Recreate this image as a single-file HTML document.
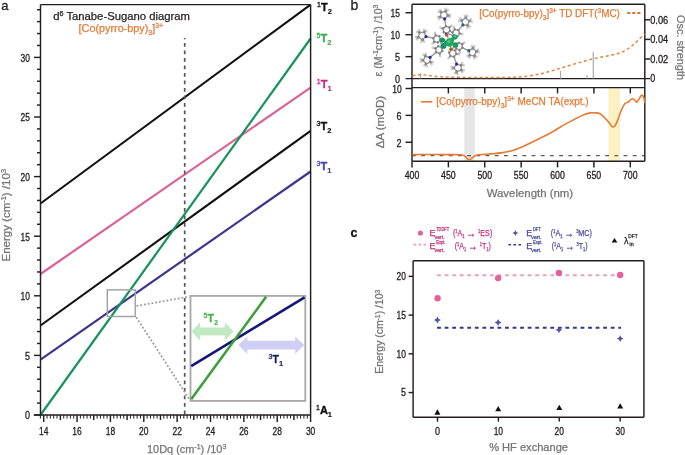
<!DOCTYPE html>
<html><head><meta charset="utf-8"><title>Figure</title>
<style>
html,body{margin:0;padding:0;background:#fff;}
body{width:685px;height:455px;overflow:hidden;}
svg{display:block;font-family:'Liberation Sans', Arial, Helvetica, sans-serif;}
</style></head>
<body>
<svg width="685" height="455" viewBox="0 0 685 455">
<rect width="685" height="455" fill="#fff"/>
<g transform="translate(448.6 41.6) scale(1.08) translate(-448.6 -41.6)">
<line x1="446.1" y1="27.3" x2="449.3" y2="28.5" stroke="#979797" stroke-width="1.25"/>
<line x1="449.3" y1="28.5" x2="449.9" y2="31.8" stroke="#979797" stroke-width="1.25"/>
<line x1="449.9" y1="31.8" x2="447.3" y2="34.0" stroke="#979797" stroke-width="1.25"/>
<line x1="447.3" y1="34.0" x2="444.1" y2="32.9" stroke="#979797" stroke-width="1.25"/>
<line x1="444.1" y1="32.9" x2="443.5" y2="29.5" stroke="#979797" stroke-width="1.25"/>
<line x1="443.5" y1="29.5" x2="446.1" y2="27.3" stroke="#979797" stroke-width="1.25"/>
<line x1="446.1" y1="27.3" x2="444.9" y2="20.6" stroke="#979797" stroke-width="1.25"/>
<line x1="449.3" y1="28.5" x2="451.2" y2="26.9" stroke="#979797" stroke-width="1.25"/>
<line x1="443.5" y1="29.5" x2="441.1" y2="28.6" stroke="#979797" stroke-width="1.25"/>
<line x1="444.9" y1="20.6" x2="441.0" y2="18.7" stroke="#979797" stroke-width="1.25"/>
<line x1="441.0" y1="18.7" x2="441.6" y2="14.4" stroke="#979797" stroke-width="1.25"/>
<line x1="441.6" y1="14.4" x2="445.9" y2="13.6" stroke="#979797" stroke-width="1.25"/>
<line x1="445.9" y1="13.6" x2="447.9" y2="17.5" stroke="#979797" stroke-width="1.25"/>
<line x1="447.9" y1="17.5" x2="444.9" y2="20.6" stroke="#979797" stroke-width="1.25"/>
<line x1="441.0" y1="18.7" x2="439.8" y2="20.7" stroke="#979797" stroke-width="1.25"/>
<line x1="441.0" y1="18.7" x2="438.7" y2="18.6" stroke="#979797" stroke-width="1.25"/>
<line x1="441.6" y1="14.4" x2="439.4" y2="13.9" stroke="#979797" stroke-width="1.25"/>
<line x1="441.6" y1="14.4" x2="441.0" y2="12.2" stroke="#979797" stroke-width="1.25"/>
<line x1="445.9" y1="13.6" x2="445.7" y2="11.3" stroke="#979797" stroke-width="1.25"/>
<line x1="445.9" y1="13.6" x2="447.8" y2="12.4" stroke="#979797" stroke-width="1.25"/>
<line x1="447.9" y1="17.5" x2="450.0" y2="16.6" stroke="#979797" stroke-width="1.25"/>
<line x1="447.9" y1="17.5" x2="449.7" y2="18.9" stroke="#979797" stroke-width="1.25"/>
<line x1="448.1" y1="38.6" x2="447.3" y2="34.0" stroke="#979797" stroke-width="1.25"/>
<line x1="457.7" y1="31.0" x2="458.8" y2="34.2" stroke="#979797" stroke-width="1.25"/>
<line x1="458.8" y1="34.2" x2="456.6" y2="36.8" stroke="#979797" stroke-width="1.25"/>
<line x1="456.6" y1="36.8" x2="453.3" y2="36.2" stroke="#979797" stroke-width="1.25"/>
<line x1="453.3" y1="36.2" x2="452.1" y2="33.0" stroke="#979797" stroke-width="1.25"/>
<line x1="452.1" y1="33.0" x2="454.3" y2="30.4" stroke="#979797" stroke-width="1.25"/>
<line x1="454.3" y1="30.4" x2="457.7" y2="31.0" stroke="#979797" stroke-width="1.25"/>
<line x1="457.7" y1="31.0" x2="461.8" y2="26.2" stroke="#979797" stroke-width="1.25"/>
<line x1="458.8" y1="34.2" x2="461.3" y2="34.7" stroke="#979797" stroke-width="1.25"/>
<line x1="454.3" y1="30.4" x2="453.5" y2="28.0" stroke="#979797" stroke-width="1.25"/>
<line x1="461.8" y1="26.2" x2="460.8" y2="22.0" stroke="#979797" stroke-width="1.25"/>
<line x1="460.8" y1="22.0" x2="464.5" y2="19.7" stroke="#979797" stroke-width="1.25"/>
<line x1="464.5" y1="19.7" x2="467.8" y2="22.5" stroke="#979797" stroke-width="1.25"/>
<line x1="467.8" y1="22.5" x2="466.1" y2="26.5" stroke="#979797" stroke-width="1.25"/>
<line x1="466.1" y1="26.5" x2="461.8" y2="26.2" stroke="#979797" stroke-width="1.25"/>
<line x1="460.8" y1="22.0" x2="458.5" y2="22.3" stroke="#979797" stroke-width="1.25"/>
<line x1="460.8" y1="22.0" x2="459.4" y2="20.1" stroke="#979797" stroke-width="1.25"/>
<line x1="464.5" y1="19.7" x2="463.5" y2="17.7" stroke="#979797" stroke-width="1.25"/>
<line x1="464.5" y1="19.7" x2="465.9" y2="17.8" stroke="#979797" stroke-width="1.25"/>
<line x1="467.8" y1="22.5" x2="469.4" y2="20.9" stroke="#979797" stroke-width="1.25"/>
<line x1="467.8" y1="22.5" x2="470.0" y2="23.2" stroke="#979797" stroke-width="1.25"/>
<line x1="466.1" y1="26.5" x2="468.2" y2="27.6" stroke="#979797" stroke-width="1.25"/>
<line x1="466.1" y1="26.5" x2="466.1" y2="28.8" stroke="#979797" stroke-width="1.25"/>
<line x1="450.6" y1="39.3" x2="453.3" y2="36.2" stroke="#979797" stroke-width="1.25"/>
<line x1="434.4" y1="38.4" x2="436.7" y2="35.9" stroke="#979797" stroke-width="1.25"/>
<line x1="436.7" y1="35.9" x2="440.0" y2="36.7" stroke="#979797" stroke-width="1.25"/>
<line x1="440.0" y1="36.7" x2="441.0" y2="39.9" stroke="#979797" stroke-width="1.25"/>
<line x1="441.0" y1="39.9" x2="438.7" y2="42.4" stroke="#979797" stroke-width="1.25"/>
<line x1="438.7" y1="42.4" x2="435.4" y2="41.7" stroke="#979797" stroke-width="1.25"/>
<line x1="435.4" y1="41.7" x2="434.4" y2="38.4" stroke="#979797" stroke-width="1.25"/>
<line x1="434.4" y1="38.4" x2="427.7" y2="36.9" stroke="#979797" stroke-width="1.25"/>
<line x1="436.7" y1="35.9" x2="436.0" y2="33.5" stroke="#979797" stroke-width="1.25"/>
<line x1="435.4" y1="41.7" x2="433.7" y2="43.5" stroke="#979797" stroke-width="1.25"/>
<line x1="427.7" y1="36.9" x2="424.4" y2="39.8" stroke="#979797" stroke-width="1.25"/>
<line x1="424.4" y1="39.8" x2="420.7" y2="37.6" stroke="#979797" stroke-width="1.25"/>
<line x1="420.7" y1="37.6" x2="421.6" y2="33.3" stroke="#979797" stroke-width="1.25"/>
<line x1="421.6" y1="33.3" x2="426.0" y2="32.9" stroke="#979797" stroke-width="1.25"/>
<line x1="426.0" y1="32.9" x2="427.7" y2="36.9" stroke="#979797" stroke-width="1.25"/>
<line x1="424.4" y1="39.8" x2="425.8" y2="41.6" stroke="#979797" stroke-width="1.25"/>
<line x1="424.4" y1="39.8" x2="423.4" y2="41.8" stroke="#979797" stroke-width="1.25"/>
<line x1="420.7" y1="37.6" x2="419.4" y2="39.4" stroke="#979797" stroke-width="1.25"/>
<line x1="420.7" y1="37.6" x2="418.4" y2="37.2" stroke="#979797" stroke-width="1.25"/>
<line x1="421.6" y1="33.3" x2="419.4" y2="32.6" stroke="#979797" stroke-width="1.25"/>
<line x1="421.6" y1="33.3" x2="421.3" y2="31.0" stroke="#979797" stroke-width="1.25"/>
<line x1="426.0" y1="32.9" x2="425.9" y2="30.6" stroke="#979797" stroke-width="1.25"/>
<line x1="426.0" y1="32.9" x2="428.0" y2="31.8" stroke="#979797" stroke-width="1.25"/>
<line x1="445.7" y1="40.9" x2="441.0" y2="39.9" stroke="#979797" stroke-width="1.25"/>
<line x1="461.4" y1="47.4" x2="458.7" y2="49.4" stroke="#979797" stroke-width="1.25"/>
<line x1="458.7" y1="49.4" x2="455.6" y2="48.0" stroke="#979797" stroke-width="1.25"/>
<line x1="455.6" y1="48.0" x2="455.2" y2="44.6" stroke="#979797" stroke-width="1.25"/>
<line x1="455.2" y1="44.6" x2="458.0" y2="42.6" stroke="#979797" stroke-width="1.25"/>
<line x1="458.0" y1="42.6" x2="461.1" y2="44.0" stroke="#979797" stroke-width="1.25"/>
<line x1="461.1" y1="44.0" x2="461.4" y2="47.4" stroke="#979797" stroke-width="1.25"/>
<line x1="461.4" y1="47.4" x2="467.3" y2="50.0" stroke="#979797" stroke-width="1.25"/>
<line x1="458.7" y1="49.4" x2="458.9" y2="51.9" stroke="#979797" stroke-width="1.25"/>
<line x1="461.1" y1="44.0" x2="463.1" y2="42.5" stroke="#979797" stroke-width="1.25"/>
<line x1="467.3" y1="50.0" x2="471.1" y2="47.8" stroke="#979797" stroke-width="1.25"/>
<line x1="471.1" y1="47.8" x2="474.3" y2="50.8" stroke="#979797" stroke-width="1.25"/>
<line x1="474.3" y1="50.8" x2="472.5" y2="54.7" stroke="#979797" stroke-width="1.25"/>
<line x1="472.5" y1="54.7" x2="468.2" y2="54.3" stroke="#979797" stroke-width="1.25"/>
<line x1="468.2" y1="54.3" x2="467.3" y2="50.0" stroke="#979797" stroke-width="1.25"/>
<line x1="471.1" y1="47.8" x2="470.1" y2="45.8" stroke="#979797" stroke-width="1.25"/>
<line x1="471.1" y1="47.8" x2="472.5" y2="46.0" stroke="#979797" stroke-width="1.25"/>
<line x1="474.3" y1="50.8" x2="476.0" y2="49.2" stroke="#979797" stroke-width="1.25"/>
<line x1="474.3" y1="50.8" x2="476.5" y2="51.5" stroke="#979797" stroke-width="1.25"/>
<line x1="472.5" y1="54.7" x2="474.5" y2="55.8" stroke="#979797" stroke-width="1.25"/>
<line x1="472.5" y1="54.7" x2="472.4" y2="57.0" stroke="#979797" stroke-width="1.25"/>
<line x1="468.2" y1="54.3" x2="467.8" y2="56.5" stroke="#979797" stroke-width="1.25"/>
<line x1="468.2" y1="54.3" x2="466.0" y2="54.9" stroke="#979797" stroke-width="1.25"/>
<line x1="451.3" y1="42.8" x2="455.2" y2="44.6" stroke="#979797" stroke-width="1.25"/>
<line x1="437.1" y1="51.4" x2="436.5" y2="48.0" stroke="#979797" stroke-width="1.25"/>
<line x1="436.5" y1="48.0" x2="439.0" y2="45.8" stroke="#979797" stroke-width="1.25"/>
<line x1="439.0" y1="45.8" x2="442.2" y2="47.0" stroke="#979797" stroke-width="1.25"/>
<line x1="442.2" y1="47.0" x2="442.9" y2="50.3" stroke="#979797" stroke-width="1.25"/>
<line x1="442.9" y1="50.3" x2="440.3" y2="52.5" stroke="#979797" stroke-width="1.25"/>
<line x1="440.3" y1="52.5" x2="437.1" y2="51.4" stroke="#979797" stroke-width="1.25"/>
<line x1="437.1" y1="51.4" x2="431.4" y2="56.2" stroke="#979797" stroke-width="1.25"/>
<line x1="436.5" y1="48.0" x2="434.1" y2="47.2" stroke="#979797" stroke-width="1.25"/>
<line x1="440.3" y1="52.5" x2="440.7" y2="55.0" stroke="#979797" stroke-width="1.25"/>
<line x1="431.4" y1="56.2" x2="431.7" y2="60.5" stroke="#979797" stroke-width="1.25"/>
<line x1="431.7" y1="60.5" x2="427.7" y2="62.2" stroke="#979797" stroke-width="1.25"/>
<line x1="427.7" y1="62.2" x2="424.9" y2="58.9" stroke="#979797" stroke-width="1.25"/>
<line x1="424.9" y1="58.9" x2="427.2" y2="55.2" stroke="#979797" stroke-width="1.25"/>
<line x1="427.2" y1="55.2" x2="431.4" y2="56.2" stroke="#979797" stroke-width="1.25"/>
<line x1="431.7" y1="60.5" x2="434.0" y2="60.5" stroke="#979797" stroke-width="1.25"/>
<line x1="431.7" y1="60.5" x2="432.8" y2="62.6" stroke="#979797" stroke-width="1.25"/>
<line x1="427.7" y1="62.2" x2="428.4" y2="64.4" stroke="#979797" stroke-width="1.25"/>
<line x1="427.7" y1="62.2" x2="426.1" y2="63.8" stroke="#979797" stroke-width="1.25"/>
<line x1="424.9" y1="58.9" x2="423.0" y2="60.2" stroke="#979797" stroke-width="1.25"/>
<line x1="424.9" y1="58.9" x2="422.8" y2="57.8" stroke="#979797" stroke-width="1.25"/>
<line x1="427.2" y1="55.2" x2="425.3" y2="53.8" stroke="#979797" stroke-width="1.25"/>
<line x1="427.2" y1="55.2" x2="427.5" y2="52.9" stroke="#979797" stroke-width="1.25"/>
<line x1="446.3" y1="43.5" x2="442.2" y2="47.0" stroke="#979797" stroke-width="1.25"/>
<line x1="453.6" y1="55.6" x2="450.2" y2="55.0" stroke="#979797" stroke-width="1.25"/>
<line x1="450.2" y1="55.0" x2="449.1" y2="51.8" stroke="#979797" stroke-width="1.25"/>
<line x1="449.1" y1="51.8" x2="451.3" y2="49.2" stroke="#979797" stroke-width="1.25"/>
<line x1="451.3" y1="49.2" x2="454.7" y2="49.8" stroke="#979797" stroke-width="1.25"/>
<line x1="454.7" y1="49.8" x2="455.8" y2="53.0" stroke="#979797" stroke-width="1.25"/>
<line x1="455.8" y1="53.0" x2="453.6" y2="55.6" stroke="#979797" stroke-width="1.25"/>
<line x1="453.6" y1="55.6" x2="456.0" y2="62.4" stroke="#979797" stroke-width="1.25"/>
<line x1="450.2" y1="55.0" x2="448.6" y2="56.9" stroke="#979797" stroke-width="1.25"/>
<line x1="455.8" y1="53.0" x2="458.3" y2="53.5" stroke="#979797" stroke-width="1.25"/>
<line x1="456.0" y1="62.4" x2="460.2" y2="63.6" stroke="#979797" stroke-width="1.25"/>
<line x1="460.2" y1="63.6" x2="460.3" y2="68.0" stroke="#979797" stroke-width="1.25"/>
<line x1="460.3" y1="68.0" x2="456.2" y2="69.4" stroke="#979797" stroke-width="1.25"/>
<line x1="456.2" y1="69.4" x2="453.5" y2="66.0" stroke="#979797" stroke-width="1.25"/>
<line x1="453.5" y1="66.0" x2="456.0" y2="62.4" stroke="#979797" stroke-width="1.25"/>
<line x1="460.2" y1="63.6" x2="461.0" y2="61.5" stroke="#979797" stroke-width="1.25"/>
<line x1="460.2" y1="63.6" x2="462.5" y2="63.4" stroke="#979797" stroke-width="1.25"/>
<line x1="460.3" y1="68.0" x2="462.6" y2="68.1" stroke="#979797" stroke-width="1.25"/>
<line x1="460.3" y1="68.0" x2="461.2" y2="70.1" stroke="#979797" stroke-width="1.25"/>
<line x1="456.2" y1="69.4" x2="456.8" y2="71.7" stroke="#979797" stroke-width="1.25"/>
<line x1="456.2" y1="69.4" x2="454.5" y2="71.0" stroke="#979797" stroke-width="1.25"/>
<line x1="453.5" y1="66.0" x2="451.6" y2="67.2" stroke="#979797" stroke-width="1.25"/>
<line x1="453.5" y1="66.0" x2="451.5" y2="64.8" stroke="#979797" stroke-width="1.25"/>
<line x1="449.6" y1="44.4" x2="451.3" y2="49.2" stroke="#979797" stroke-width="1.25"/>
<line x1="447.3" y1="34.0" x2="453.3" y2="36.2" stroke="#979797" stroke-width="1.25"/>
<line x1="441.0" y1="39.9" x2="442.2" y2="47.0" stroke="#979797" stroke-width="1.25"/>
<line x1="455.2" y1="44.6" x2="451.3" y2="49.2" stroke="#979797" stroke-width="1.25"/>
<circle cx="451.2" cy="26.9" r="0.85" fill="#f2f2f2" stroke="#9a9a9a" stroke-width="0.45"/>
<circle cx="441.1" cy="28.6" r="0.85" fill="#f2f2f2" stroke="#9a9a9a" stroke-width="0.45"/>
<circle cx="439.8" cy="20.7" r="0.85" fill="#f2f2f2" stroke="#9a9a9a" stroke-width="0.45"/>
<circle cx="438.7" cy="18.6" r="0.85" fill="#f2f2f2" stroke="#9a9a9a" stroke-width="0.45"/>
<circle cx="439.4" cy="13.9" r="0.85" fill="#f2f2f2" stroke="#9a9a9a" stroke-width="0.45"/>
<circle cx="441.0" cy="12.2" r="0.85" fill="#f2f2f2" stroke="#9a9a9a" stroke-width="0.45"/>
<circle cx="445.7" cy="11.3" r="0.85" fill="#f2f2f2" stroke="#9a9a9a" stroke-width="0.45"/>
<circle cx="447.8" cy="12.4" r="0.85" fill="#f2f2f2" stroke="#9a9a9a" stroke-width="0.45"/>
<circle cx="450.0" cy="16.6" r="0.85" fill="#f2f2f2" stroke="#9a9a9a" stroke-width="0.45"/>
<circle cx="449.7" cy="18.9" r="0.85" fill="#f2f2f2" stroke="#9a9a9a" stroke-width="0.45"/>
<circle cx="461.3" cy="34.7" r="0.85" fill="#f2f2f2" stroke="#9a9a9a" stroke-width="0.45"/>
<circle cx="453.5" cy="28.0" r="0.85" fill="#f2f2f2" stroke="#9a9a9a" stroke-width="0.45"/>
<circle cx="458.5" cy="22.3" r="0.85" fill="#f2f2f2" stroke="#9a9a9a" stroke-width="0.45"/>
<circle cx="459.4" cy="20.1" r="0.85" fill="#f2f2f2" stroke="#9a9a9a" stroke-width="0.45"/>
<circle cx="463.5" cy="17.7" r="0.85" fill="#f2f2f2" stroke="#9a9a9a" stroke-width="0.45"/>
<circle cx="465.9" cy="17.8" r="0.85" fill="#f2f2f2" stroke="#9a9a9a" stroke-width="0.45"/>
<circle cx="469.4" cy="20.9" r="0.85" fill="#f2f2f2" stroke="#9a9a9a" stroke-width="0.45"/>
<circle cx="470.0" cy="23.2" r="0.85" fill="#f2f2f2" stroke="#9a9a9a" stroke-width="0.45"/>
<circle cx="468.2" cy="27.6" r="0.85" fill="#f2f2f2" stroke="#9a9a9a" stroke-width="0.45"/>
<circle cx="466.1" cy="28.8" r="0.85" fill="#f2f2f2" stroke="#9a9a9a" stroke-width="0.45"/>
<circle cx="436.0" cy="33.5" r="0.85" fill="#f2f2f2" stroke="#9a9a9a" stroke-width="0.45"/>
<circle cx="433.7" cy="43.5" r="0.85" fill="#f2f2f2" stroke="#9a9a9a" stroke-width="0.45"/>
<circle cx="425.8" cy="41.6" r="0.85" fill="#f2f2f2" stroke="#9a9a9a" stroke-width="0.45"/>
<circle cx="423.4" cy="41.8" r="0.85" fill="#f2f2f2" stroke="#9a9a9a" stroke-width="0.45"/>
<circle cx="419.4" cy="39.4" r="0.85" fill="#f2f2f2" stroke="#9a9a9a" stroke-width="0.45"/>
<circle cx="418.4" cy="37.2" r="0.85" fill="#f2f2f2" stroke="#9a9a9a" stroke-width="0.45"/>
<circle cx="419.4" cy="32.6" r="0.85" fill="#f2f2f2" stroke="#9a9a9a" stroke-width="0.45"/>
<circle cx="421.3" cy="31.0" r="0.85" fill="#f2f2f2" stroke="#9a9a9a" stroke-width="0.45"/>
<circle cx="425.9" cy="30.6" r="0.85" fill="#f2f2f2" stroke="#9a9a9a" stroke-width="0.45"/>
<circle cx="428.0" cy="31.8" r="0.85" fill="#f2f2f2" stroke="#9a9a9a" stroke-width="0.45"/>
<circle cx="458.9" cy="51.9" r="0.85" fill="#f2f2f2" stroke="#9a9a9a" stroke-width="0.45"/>
<circle cx="463.1" cy="42.5" r="0.85" fill="#f2f2f2" stroke="#9a9a9a" stroke-width="0.45"/>
<circle cx="470.1" cy="45.8" r="0.85" fill="#f2f2f2" stroke="#9a9a9a" stroke-width="0.45"/>
<circle cx="472.5" cy="46.0" r="0.85" fill="#f2f2f2" stroke="#9a9a9a" stroke-width="0.45"/>
<circle cx="476.0" cy="49.2" r="0.85" fill="#f2f2f2" stroke="#9a9a9a" stroke-width="0.45"/>
<circle cx="476.5" cy="51.5" r="0.85" fill="#f2f2f2" stroke="#9a9a9a" stroke-width="0.45"/>
<circle cx="474.5" cy="55.8" r="0.85" fill="#f2f2f2" stroke="#9a9a9a" stroke-width="0.45"/>
<circle cx="472.4" cy="57.0" r="0.85" fill="#f2f2f2" stroke="#9a9a9a" stroke-width="0.45"/>
<circle cx="467.8" cy="56.5" r="0.85" fill="#f2f2f2" stroke="#9a9a9a" stroke-width="0.45"/>
<circle cx="466.0" cy="54.9" r="0.85" fill="#f2f2f2" stroke="#9a9a9a" stroke-width="0.45"/>
<circle cx="434.1" cy="47.2" r="0.85" fill="#f2f2f2" stroke="#9a9a9a" stroke-width="0.45"/>
<circle cx="440.7" cy="55.0" r="0.85" fill="#f2f2f2" stroke="#9a9a9a" stroke-width="0.45"/>
<circle cx="434.0" cy="60.5" r="0.85" fill="#f2f2f2" stroke="#9a9a9a" stroke-width="0.45"/>
<circle cx="432.8" cy="62.6" r="0.85" fill="#f2f2f2" stroke="#9a9a9a" stroke-width="0.45"/>
<circle cx="428.4" cy="64.4" r="0.85" fill="#f2f2f2" stroke="#9a9a9a" stroke-width="0.45"/>
<circle cx="426.1" cy="63.8" r="0.85" fill="#f2f2f2" stroke="#9a9a9a" stroke-width="0.45"/>
<circle cx="423.0" cy="60.2" r="0.85" fill="#f2f2f2" stroke="#9a9a9a" stroke-width="0.45"/>
<circle cx="422.8" cy="57.8" r="0.85" fill="#f2f2f2" stroke="#9a9a9a" stroke-width="0.45"/>
<circle cx="425.3" cy="53.8" r="0.85" fill="#f2f2f2" stroke="#9a9a9a" stroke-width="0.45"/>
<circle cx="427.5" cy="52.9" r="0.85" fill="#f2f2f2" stroke="#9a9a9a" stroke-width="0.45"/>
<circle cx="448.6" cy="56.9" r="0.85" fill="#f2f2f2" stroke="#9a9a9a" stroke-width="0.45"/>
<circle cx="458.3" cy="53.5" r="0.85" fill="#f2f2f2" stroke="#9a9a9a" stroke-width="0.45"/>
<circle cx="461.0" cy="61.5" r="0.85" fill="#f2f2f2" stroke="#9a9a9a" stroke-width="0.45"/>
<circle cx="462.5" cy="63.4" r="0.85" fill="#f2f2f2" stroke="#9a9a9a" stroke-width="0.45"/>
<circle cx="462.6" cy="68.1" r="0.85" fill="#f2f2f2" stroke="#9a9a9a" stroke-width="0.45"/>
<circle cx="461.2" cy="70.1" r="0.85" fill="#f2f2f2" stroke="#9a9a9a" stroke-width="0.45"/>
<circle cx="456.8" cy="71.7" r="0.85" fill="#f2f2f2" stroke="#9a9a9a" stroke-width="0.45"/>
<circle cx="454.5" cy="71.0" r="0.85" fill="#f2f2f2" stroke="#9a9a9a" stroke-width="0.45"/>
<circle cx="451.6" cy="67.2" r="0.85" fill="#f2f2f2" stroke="#9a9a9a" stroke-width="0.45"/>
<circle cx="451.5" cy="64.8" r="0.85" fill="#f2f2f2" stroke="#9a9a9a" stroke-width="0.45"/>
<circle cx="446.1" cy="27.3" r="1.15" fill="#858585"/>
<circle cx="449.3" cy="28.5" r="1.15" fill="#858585"/>
<circle cx="449.9" cy="31.8" r="1.15" fill="#858585"/>
<circle cx="447.3" cy="34.0" r="1.15" fill="#858585"/>
<circle cx="444.1" cy="32.9" r="1.15" fill="#858585"/>
<circle cx="443.5" cy="29.5" r="1.15" fill="#858585"/>
<circle cx="441.0" cy="18.7" r="1.2" fill="#858585"/>
<circle cx="441.6" cy="14.4" r="1.2" fill="#858585"/>
<circle cx="445.9" cy="13.6" r="1.2" fill="#858585"/>
<circle cx="447.9" cy="17.5" r="1.2" fill="#858585"/>
<circle cx="444.9" cy="20.6" r="1.5" fill="#2a2aa8"/>
<circle cx="457.7" cy="31.0" r="1.15" fill="#858585"/>
<circle cx="458.8" cy="34.2" r="1.15" fill="#858585"/>
<circle cx="456.6" cy="36.8" r="1.15" fill="#858585"/>
<circle cx="453.3" cy="36.2" r="1.15" fill="#858585"/>
<circle cx="452.1" cy="33.0" r="1.15" fill="#858585"/>
<circle cx="454.3" cy="30.4" r="1.15" fill="#858585"/>
<circle cx="460.8" cy="22.0" r="1.2" fill="#858585"/>
<circle cx="464.5" cy="19.7" r="1.2" fill="#858585"/>
<circle cx="467.8" cy="22.5" r="1.2" fill="#858585"/>
<circle cx="466.1" cy="26.5" r="1.2" fill="#858585"/>
<circle cx="461.8" cy="26.2" r="1.5" fill="#2a6488"/>
<circle cx="434.4" cy="38.4" r="1.15" fill="#858585"/>
<circle cx="436.7" cy="35.9" r="1.15" fill="#858585"/>
<circle cx="440.0" cy="36.7" r="1.15" fill="#858585"/>
<circle cx="441.0" cy="39.9" r="1.15" fill="#858585"/>
<circle cx="438.7" cy="42.4" r="1.15" fill="#858585"/>
<circle cx="435.4" cy="41.7" r="1.15" fill="#858585"/>
<circle cx="424.4" cy="39.8" r="1.2" fill="#858585"/>
<circle cx="420.7" cy="37.6" r="1.2" fill="#858585"/>
<circle cx="421.6" cy="33.3" r="1.2" fill="#858585"/>
<circle cx="426.0" cy="32.9" r="1.2" fill="#858585"/>
<circle cx="427.7" cy="36.9" r="1.5" fill="#2a2aa8"/>
<circle cx="461.4" cy="47.4" r="1.15" fill="#858585"/>
<circle cx="458.7" cy="49.4" r="1.15" fill="#858585"/>
<circle cx="455.6" cy="48.0" r="1.15" fill="#858585"/>
<circle cx="455.2" cy="44.6" r="1.15" fill="#858585"/>
<circle cx="458.0" cy="42.6" r="1.15" fill="#858585"/>
<circle cx="461.1" cy="44.0" r="1.15" fill="#858585"/>
<circle cx="471.1" cy="47.8" r="1.2" fill="#858585"/>
<circle cx="474.3" cy="50.8" r="1.2" fill="#858585"/>
<circle cx="472.5" cy="54.7" r="1.2" fill="#858585"/>
<circle cx="468.2" cy="54.3" r="1.2" fill="#858585"/>
<circle cx="467.3" cy="50.0" r="1.5" fill="#2a6488"/>
<circle cx="437.1" cy="51.4" r="1.15" fill="#858585"/>
<circle cx="436.5" cy="48.0" r="1.15" fill="#858585"/>
<circle cx="439.0" cy="45.8" r="1.15" fill="#858585"/>
<circle cx="442.2" cy="47.0" r="1.15" fill="#858585"/>
<circle cx="442.9" cy="50.3" r="1.15" fill="#858585"/>
<circle cx="440.3" cy="52.5" r="1.15" fill="#858585"/>
<circle cx="431.7" cy="60.5" r="1.2" fill="#858585"/>
<circle cx="427.7" cy="62.2" r="1.2" fill="#858585"/>
<circle cx="424.9" cy="58.9" r="1.2" fill="#858585"/>
<circle cx="427.2" cy="55.2" r="1.2" fill="#858585"/>
<circle cx="431.4" cy="56.2" r="1.5" fill="#2a2aa8"/>
<circle cx="453.6" cy="55.6" r="1.15" fill="#858585"/>
<circle cx="450.2" cy="55.0" r="1.15" fill="#858585"/>
<circle cx="449.1" cy="51.8" r="1.15" fill="#858585"/>
<circle cx="451.3" cy="49.2" r="1.15" fill="#858585"/>
<circle cx="454.7" cy="49.8" r="1.15" fill="#858585"/>
<circle cx="455.8" cy="53.0" r="1.15" fill="#858585"/>
<circle cx="460.2" cy="63.6" r="1.2" fill="#858585"/>
<circle cx="460.3" cy="68.0" r="1.2" fill="#858585"/>
<circle cx="456.2" cy="69.4" r="1.2" fill="#858585"/>
<circle cx="453.5" cy="66.0" r="1.2" fill="#858585"/>
<circle cx="456.0" cy="62.4" r="1.5" fill="#2a2aa8"/>
<circle cx="442.8" cy="40.2" r="2.5" fill="#1a8f6e"/>
<circle cx="444.0" cy="45.6" r="2.6" fill="#1a8f6e"/>
<circle cx="446.4" cy="43.0" r="2.2" fill="#1e9a62"/>
<circle cx="454.2" cy="37.3" r="2.5" fill="#1fa060"/>
<circle cx="455.0" cy="44.8" r="2.6" fill="#1d9a5c"/>
<circle cx="452.0" cy="40.0" r="2.0" fill="#20a262"/>
<circle cx="449.5" cy="42.4" r="3.9" fill="#22a85e"/>
<circle cx="448.9" cy="41.6" r="1.4" fill="#52cc86"/>
<circle cx="454.6" cy="36.7" r="0.8" fill="#6ad89a"/>
<circle cx="446.0" cy="34.6" r="1.1" fill="#4a3c9a"/>
<circle cx="446.7" cy="35.8" r="1.4" fill="#a8642a"/>
<circle cx="450.6" cy="48.6" r="1.5" fill="#a8642a"/>
</g>
<text x="1.30" y="9.90" font-size="13" fill="#231f20" stroke="#231f20" stroke-width="0.3" text-anchor="start" font-weight="normal" >a</text>
<line x1="40.50" y1="203.50" x2="310.60" y2="4.60" stroke="#111" stroke-width="2.1" />
<line x1="40.50" y1="325.50" x2="310.60" y2="130.80" stroke="#111" stroke-width="2.1" />
<line x1="40.50" y1="274.00" x2="310.60" y2="87.60" stroke="#dd6198" stroke-width="2.2" />
<line x1="40.50" y1="359.60" x2="310.60" y2="171.50" stroke="#3d3490" stroke-width="2.2" />
<line x1="40.50" y1="415.00" x2="310.60" y2="38.50" stroke="#15935b" stroke-width="2.2" />
<line x1="184.70" y1="37.90" x2="184.70" y2="414.50" stroke="#555555" stroke-width="1.7" stroke-dasharray="3.8 3.7" stroke-dashoffset="2.5"/>
<rect x="107.3" y="289.9" width="28" height="26.6" fill="none" stroke="#a3a3a3" stroke-width="1.5"/>
<line x1="136.50" y1="306.00" x2="189.50" y2="296.60" stroke="#9c9c9c" stroke-width="1.7" stroke-dasharray="1.9 1.9"/>
<line x1="136.30" y1="317.30" x2="189.50" y2="399.50" stroke="#9c9c9c" stroke-width="1.7" stroke-dasharray="1.9 1.9"/>
<rect x="190.5" y="295.9" width="114.8" height="105" fill="#fff" stroke="#a8a8a8" stroke-width="1.8"/>
<polygon points="191.6,331.5 200.1,322.2 200.1,327.5 224.9,327.5 224.9,322.2 233.4,331.5 224.9,340.8 224.9,335.5 200.1,335.5 200.1,340.8" fill="#c2eac2"/>
<polygon points="238.4,345.1 247.4,336.4 247.4,340.8 295.2,340.8 295.2,336.4 304.2,345.1 295.2,353.9 295.2,349.5 247.4,349.5 247.4,353.9" fill="#cfcff6"/>
<line x1="191.20" y1="366.20" x2="304.60" y2="297.30" stroke="#16167a" stroke-width="2.6" />
<line x1="191.20" y1="399.20" x2="266.10" y2="296.80" stroke="#3f9e3c" stroke-width="2.6" />
<line x1="40.50" y1="4.60" x2="310.60" y2="4.60" stroke="#231f20" stroke-width="1.45" />
<line x1="40.50" y1="4.60" x2="40.50" y2="415.00" stroke="#231f20" stroke-width="1.45" />
<line x1="310.60" y1="4.60" x2="310.60" y2="415.00" stroke="#231f20" stroke-width="1.45" />
<line x1="33.80" y1="415.00" x2="310.60" y2="415.00" stroke="#231f20" stroke-width="1.45" />
<line x1="34.00" y1="415.00" x2="40.50" y2="415.00" stroke="#231f20" stroke-width="1.45" />
<text x="30.00" y="419.40" font-size="10" fill="#231f20" stroke="#231f20" stroke-width="0.3" text-anchor="end" font-weight="normal" textLength="5.0" lengthAdjust="spacingAndGlyphs">0</text>
<line x1="37.00" y1="403.08" x2="40.50" y2="403.08" stroke="#231f20" stroke-width="1.45" />
<line x1="37.00" y1="391.16" x2="40.50" y2="391.16" stroke="#231f20" stroke-width="1.45" />
<line x1="37.00" y1="379.24" x2="40.50" y2="379.24" stroke="#231f20" stroke-width="1.45" />
<line x1="37.00" y1="367.32" x2="40.50" y2="367.32" stroke="#231f20" stroke-width="1.45" />
<line x1="34.00" y1="355.40" x2="40.50" y2="355.40" stroke="#231f20" stroke-width="1.45" />
<text x="30.00" y="359.80" font-size="10" fill="#231f20" stroke="#231f20" stroke-width="0.3" text-anchor="end" font-weight="normal" textLength="5.0" lengthAdjust="spacingAndGlyphs">5</text>
<line x1="37.00" y1="343.48" x2="40.50" y2="343.48" stroke="#231f20" stroke-width="1.45" />
<line x1="37.00" y1="331.56" x2="40.50" y2="331.56" stroke="#231f20" stroke-width="1.45" />
<line x1="37.00" y1="319.64" x2="40.50" y2="319.64" stroke="#231f20" stroke-width="1.45" />
<line x1="37.00" y1="307.72" x2="40.50" y2="307.72" stroke="#231f20" stroke-width="1.45" />
<line x1="34.00" y1="295.80" x2="40.50" y2="295.80" stroke="#231f20" stroke-width="1.45" />
<text x="30.00" y="300.20" font-size="10" fill="#231f20" stroke="#231f20" stroke-width="0.3" text-anchor="end" font-weight="normal" textLength="9.4" lengthAdjust="spacingAndGlyphs">10</text>
<line x1="37.00" y1="283.88" x2="40.50" y2="283.88" stroke="#231f20" stroke-width="1.45" />
<line x1="37.00" y1="271.96" x2="40.50" y2="271.96" stroke="#231f20" stroke-width="1.45" />
<line x1="37.00" y1="260.04" x2="40.50" y2="260.04" stroke="#231f20" stroke-width="1.45" />
<line x1="37.00" y1="248.12" x2="40.50" y2="248.12" stroke="#231f20" stroke-width="1.45" />
<line x1="34.00" y1="236.20" x2="40.50" y2="236.20" stroke="#231f20" stroke-width="1.45" />
<text x="30.00" y="240.60" font-size="10" fill="#231f20" stroke="#231f20" stroke-width="0.3" text-anchor="end" font-weight="normal" textLength="9.4" lengthAdjust="spacingAndGlyphs">15</text>
<line x1="37.00" y1="224.28" x2="40.50" y2="224.28" stroke="#231f20" stroke-width="1.45" />
<line x1="37.00" y1="212.36" x2="40.50" y2="212.36" stroke="#231f20" stroke-width="1.45" />
<line x1="37.00" y1="200.44" x2="40.50" y2="200.44" stroke="#231f20" stroke-width="1.45" />
<line x1="37.00" y1="188.52" x2="40.50" y2="188.52" stroke="#231f20" stroke-width="1.45" />
<line x1="34.00" y1="176.60" x2="40.50" y2="176.60" stroke="#231f20" stroke-width="1.45" />
<text x="30.00" y="181.00" font-size="10" fill="#231f20" stroke="#231f20" stroke-width="0.3" text-anchor="end" font-weight="normal" textLength="9.4" lengthAdjust="spacingAndGlyphs">20</text>
<line x1="37.00" y1="164.68" x2="40.50" y2="164.68" stroke="#231f20" stroke-width="1.45" />
<line x1="37.00" y1="152.76" x2="40.50" y2="152.76" stroke="#231f20" stroke-width="1.45" />
<line x1="37.00" y1="140.84" x2="40.50" y2="140.84" stroke="#231f20" stroke-width="1.45" />
<line x1="37.00" y1="128.92" x2="40.50" y2="128.92" stroke="#231f20" stroke-width="1.45" />
<line x1="34.00" y1="117.00" x2="40.50" y2="117.00" stroke="#231f20" stroke-width="1.45" />
<text x="30.00" y="121.40" font-size="10" fill="#231f20" stroke="#231f20" stroke-width="0.3" text-anchor="end" font-weight="normal" textLength="9.4" lengthAdjust="spacingAndGlyphs">25</text>
<line x1="37.00" y1="105.08" x2="40.50" y2="105.08" stroke="#231f20" stroke-width="1.45" />
<line x1="37.00" y1="93.16" x2="40.50" y2="93.16" stroke="#231f20" stroke-width="1.45" />
<line x1="37.00" y1="81.24" x2="40.50" y2="81.24" stroke="#231f20" stroke-width="1.45" />
<line x1="37.00" y1="69.32" x2="40.50" y2="69.32" stroke="#231f20" stroke-width="1.45" />
<line x1="34.00" y1="57.40" x2="40.50" y2="57.40" stroke="#231f20" stroke-width="1.45" />
<text x="30.00" y="61.80" font-size="10" fill="#231f20" stroke="#231f20" stroke-width="0.3" text-anchor="end" font-weight="normal" textLength="9.4" lengthAdjust="spacingAndGlyphs">30</text>
<line x1="37.00" y1="45.48" x2="40.50" y2="45.48" stroke="#231f20" stroke-width="1.45" />
<line x1="37.00" y1="33.56" x2="40.50" y2="33.56" stroke="#231f20" stroke-width="1.45" />
<line x1="37.00" y1="21.64" x2="40.50" y2="21.64" stroke="#231f20" stroke-width="1.45" />
<line x1="37.00" y1="9.72" x2="40.50" y2="9.72" stroke="#231f20" stroke-width="1.45" />
<line x1="40.36" y1="415.00" x2="40.36" y2="418.60" stroke="#231f20" stroke-width="1.0" />
<line x1="43.70" y1="415.00" x2="43.70" y2="422.00" stroke="#231f20" stroke-width="1.45" />
<text x="43.70" y="435.20" font-size="10" fill="#231f20" stroke="#231f20" stroke-width="0.3" text-anchor="middle" font-weight="normal" textLength="9.4" lengthAdjust="spacingAndGlyphs">14</text>
<line x1="47.04" y1="415.00" x2="47.04" y2="418.60" stroke="#231f20" stroke-width="1.0" />
<line x1="50.37" y1="415.00" x2="50.37" y2="418.60" stroke="#231f20" stroke-width="1.0" />
<line x1="53.71" y1="415.00" x2="53.71" y2="418.60" stroke="#231f20" stroke-width="1.0" />
<line x1="57.04" y1="415.00" x2="57.04" y2="418.60" stroke="#231f20" stroke-width="1.0" />
<line x1="60.38" y1="415.00" x2="60.38" y2="420.00" stroke="#231f20" stroke-width="1.45" />
<line x1="63.72" y1="415.00" x2="63.72" y2="418.60" stroke="#231f20" stroke-width="1.0" />
<line x1="67.05" y1="415.00" x2="67.05" y2="418.60" stroke="#231f20" stroke-width="1.0" />
<line x1="70.39" y1="415.00" x2="70.39" y2="418.60" stroke="#231f20" stroke-width="1.0" />
<line x1="73.72" y1="415.00" x2="73.72" y2="418.60" stroke="#231f20" stroke-width="1.0" />
<line x1="77.06" y1="415.00" x2="77.06" y2="422.00" stroke="#231f20" stroke-width="1.45" />
<text x="77.06" y="435.20" font-size="10" fill="#231f20" stroke="#231f20" stroke-width="0.3" text-anchor="middle" font-weight="normal" textLength="9.4" lengthAdjust="spacingAndGlyphs">16</text>
<line x1="80.40" y1="415.00" x2="80.40" y2="418.60" stroke="#231f20" stroke-width="1.0" />
<line x1="83.73" y1="415.00" x2="83.73" y2="418.60" stroke="#231f20" stroke-width="1.0" />
<line x1="87.07" y1="415.00" x2="87.07" y2="418.60" stroke="#231f20" stroke-width="1.0" />
<line x1="90.40" y1="415.00" x2="90.40" y2="418.60" stroke="#231f20" stroke-width="1.0" />
<line x1="93.74" y1="415.00" x2="93.74" y2="420.00" stroke="#231f20" stroke-width="1.45" />
<line x1="97.08" y1="415.00" x2="97.08" y2="418.60" stroke="#231f20" stroke-width="1.0" />
<line x1="100.41" y1="415.00" x2="100.41" y2="418.60" stroke="#231f20" stroke-width="1.0" />
<line x1="103.75" y1="415.00" x2="103.75" y2="418.60" stroke="#231f20" stroke-width="1.0" />
<line x1="107.08" y1="415.00" x2="107.08" y2="418.60" stroke="#231f20" stroke-width="1.0" />
<line x1="110.42" y1="415.00" x2="110.42" y2="422.00" stroke="#231f20" stroke-width="1.45" />
<text x="110.42" y="435.20" font-size="10" fill="#231f20" stroke="#231f20" stroke-width="0.3" text-anchor="middle" font-weight="normal" textLength="9.4" lengthAdjust="spacingAndGlyphs">18</text>
<line x1="113.76" y1="415.00" x2="113.76" y2="418.60" stroke="#231f20" stroke-width="1.0" />
<line x1="117.09" y1="415.00" x2="117.09" y2="418.60" stroke="#231f20" stroke-width="1.0" />
<line x1="120.43" y1="415.00" x2="120.43" y2="418.60" stroke="#231f20" stroke-width="1.0" />
<line x1="123.76" y1="415.00" x2="123.76" y2="418.60" stroke="#231f20" stroke-width="1.0" />
<line x1="127.10" y1="415.00" x2="127.10" y2="420.00" stroke="#231f20" stroke-width="1.45" />
<line x1="130.44" y1="415.00" x2="130.44" y2="418.60" stroke="#231f20" stroke-width="1.0" />
<line x1="133.77" y1="415.00" x2="133.77" y2="418.60" stroke="#231f20" stroke-width="1.0" />
<line x1="137.11" y1="415.00" x2="137.11" y2="418.60" stroke="#231f20" stroke-width="1.0" />
<line x1="140.44" y1="415.00" x2="140.44" y2="418.60" stroke="#231f20" stroke-width="1.0" />
<line x1="143.78" y1="415.00" x2="143.78" y2="422.00" stroke="#231f20" stroke-width="1.45" />
<text x="143.78" y="435.20" font-size="10" fill="#231f20" stroke="#231f20" stroke-width="0.3" text-anchor="middle" font-weight="normal" textLength="9.4" lengthAdjust="spacingAndGlyphs">20</text>
<line x1="147.12" y1="415.00" x2="147.12" y2="418.60" stroke="#231f20" stroke-width="1.0" />
<line x1="150.45" y1="415.00" x2="150.45" y2="418.60" stroke="#231f20" stroke-width="1.0" />
<line x1="153.79" y1="415.00" x2="153.79" y2="418.60" stroke="#231f20" stroke-width="1.0" />
<line x1="157.12" y1="415.00" x2="157.12" y2="418.60" stroke="#231f20" stroke-width="1.0" />
<line x1="160.46" y1="415.00" x2="160.46" y2="420.00" stroke="#231f20" stroke-width="1.45" />
<line x1="163.80" y1="415.00" x2="163.80" y2="418.60" stroke="#231f20" stroke-width="1.0" />
<line x1="167.13" y1="415.00" x2="167.13" y2="418.60" stroke="#231f20" stroke-width="1.0" />
<line x1="170.47" y1="415.00" x2="170.47" y2="418.60" stroke="#231f20" stroke-width="1.0" />
<line x1="173.80" y1="415.00" x2="173.80" y2="418.60" stroke="#231f20" stroke-width="1.0" />
<line x1="177.14" y1="415.00" x2="177.14" y2="422.00" stroke="#231f20" stroke-width="1.45" />
<text x="177.14" y="435.20" font-size="10" fill="#231f20" stroke="#231f20" stroke-width="0.3" text-anchor="middle" font-weight="normal" textLength="9.4" lengthAdjust="spacingAndGlyphs">22</text>
<line x1="180.48" y1="415.00" x2="180.48" y2="418.60" stroke="#231f20" stroke-width="1.0" />
<line x1="183.81" y1="415.00" x2="183.81" y2="418.60" stroke="#231f20" stroke-width="1.0" />
<line x1="187.15" y1="415.00" x2="187.15" y2="418.60" stroke="#231f20" stroke-width="1.0" />
<line x1="190.48" y1="415.00" x2="190.48" y2="418.60" stroke="#231f20" stroke-width="1.0" />
<line x1="193.82" y1="415.00" x2="193.82" y2="420.00" stroke="#231f20" stroke-width="1.45" />
<line x1="197.16" y1="415.00" x2="197.16" y2="418.60" stroke="#231f20" stroke-width="1.0" />
<line x1="200.49" y1="415.00" x2="200.49" y2="418.60" stroke="#231f20" stroke-width="1.0" />
<line x1="203.83" y1="415.00" x2="203.83" y2="418.60" stroke="#231f20" stroke-width="1.0" />
<line x1="207.16" y1="415.00" x2="207.16" y2="418.60" stroke="#231f20" stroke-width="1.0" />
<line x1="210.50" y1="415.00" x2="210.50" y2="422.00" stroke="#231f20" stroke-width="1.45" />
<text x="210.50" y="435.20" font-size="10" fill="#231f20" stroke="#231f20" stroke-width="0.3" text-anchor="middle" font-weight="normal" textLength="9.4" lengthAdjust="spacingAndGlyphs">24</text>
<line x1="213.84" y1="415.00" x2="213.84" y2="418.60" stroke="#231f20" stroke-width="1.0" />
<line x1="217.17" y1="415.00" x2="217.17" y2="418.60" stroke="#231f20" stroke-width="1.0" />
<line x1="220.51" y1="415.00" x2="220.51" y2="418.60" stroke="#231f20" stroke-width="1.0" />
<line x1="223.84" y1="415.00" x2="223.84" y2="418.60" stroke="#231f20" stroke-width="1.0" />
<line x1="227.18" y1="415.00" x2="227.18" y2="420.00" stroke="#231f20" stroke-width="1.45" />
<line x1="230.52" y1="415.00" x2="230.52" y2="418.60" stroke="#231f20" stroke-width="1.0" />
<line x1="233.85" y1="415.00" x2="233.85" y2="418.60" stroke="#231f20" stroke-width="1.0" />
<line x1="237.19" y1="415.00" x2="237.19" y2="418.60" stroke="#231f20" stroke-width="1.0" />
<line x1="240.52" y1="415.00" x2="240.52" y2="418.60" stroke="#231f20" stroke-width="1.0" />
<line x1="243.86" y1="415.00" x2="243.86" y2="422.00" stroke="#231f20" stroke-width="1.45" />
<text x="243.86" y="435.20" font-size="10" fill="#231f20" stroke="#231f20" stroke-width="0.3" text-anchor="middle" font-weight="normal" textLength="9.4" lengthAdjust="spacingAndGlyphs">26</text>
<line x1="247.20" y1="415.00" x2="247.20" y2="418.60" stroke="#231f20" stroke-width="1.0" />
<line x1="250.53" y1="415.00" x2="250.53" y2="418.60" stroke="#231f20" stroke-width="1.0" />
<line x1="253.87" y1="415.00" x2="253.87" y2="418.60" stroke="#231f20" stroke-width="1.0" />
<line x1="257.20" y1="415.00" x2="257.20" y2="418.60" stroke="#231f20" stroke-width="1.0" />
<line x1="260.54" y1="415.00" x2="260.54" y2="420.00" stroke="#231f20" stroke-width="1.45" />
<line x1="263.88" y1="415.00" x2="263.88" y2="418.60" stroke="#231f20" stroke-width="1.0" />
<line x1="267.21" y1="415.00" x2="267.21" y2="418.60" stroke="#231f20" stroke-width="1.0" />
<line x1="270.55" y1="415.00" x2="270.55" y2="418.60" stroke="#231f20" stroke-width="1.0" />
<line x1="273.88" y1="415.00" x2="273.88" y2="418.60" stroke="#231f20" stroke-width="1.0" />
<line x1="277.22" y1="415.00" x2="277.22" y2="422.00" stroke="#231f20" stroke-width="1.45" />
<text x="277.22" y="435.20" font-size="10" fill="#231f20" stroke="#231f20" stroke-width="0.3" text-anchor="middle" font-weight="normal" textLength="9.4" lengthAdjust="spacingAndGlyphs">28</text>
<line x1="280.56" y1="415.00" x2="280.56" y2="418.60" stroke="#231f20" stroke-width="1.0" />
<line x1="283.89" y1="415.00" x2="283.89" y2="418.60" stroke="#231f20" stroke-width="1.0" />
<line x1="287.23" y1="415.00" x2="287.23" y2="418.60" stroke="#231f20" stroke-width="1.0" />
<line x1="290.56" y1="415.00" x2="290.56" y2="418.60" stroke="#231f20" stroke-width="1.0" />
<line x1="293.90" y1="415.00" x2="293.90" y2="420.00" stroke="#231f20" stroke-width="1.45" />
<line x1="297.24" y1="415.00" x2="297.24" y2="418.60" stroke="#231f20" stroke-width="1.0" />
<line x1="300.57" y1="415.00" x2="300.57" y2="418.60" stroke="#231f20" stroke-width="1.0" />
<line x1="303.91" y1="415.00" x2="303.91" y2="418.60" stroke="#231f20" stroke-width="1.0" />
<line x1="307.24" y1="415.00" x2="307.24" y2="418.60" stroke="#231f20" stroke-width="1.0" />
<line x1="310.58" y1="415.00" x2="310.58" y2="422.00" stroke="#231f20" stroke-width="1.45" />
<text x="310.58" y="435.20" font-size="10" fill="#231f20" stroke="#231f20" stroke-width="0.3" text-anchor="middle" font-weight="normal" textLength="9.4" lengthAdjust="spacingAndGlyphs">30</text>
<text x="147" y="452.7" font-size="11" fill="#747474" textLength="79.3" lengthAdjust="spacingAndGlyphs" stroke="#747474" stroke-width="0.25">10Dq (cm<tspan dy="-4" font-size="7">-1</tspan><tspan dy="4">) /10</tspan><tspan dy="-4" font-size="7">3</tspan></text>
<text transform="translate(9.6,261.5) rotate(-90)" x="0" y="0" font-size="11" fill="#747474" textLength="92.5" lengthAdjust="spacingAndGlyphs" stroke="#747474" stroke-width="0.25">Energy (cm<tspan dy="-4" font-size="7">-1</tspan><tspan dy="4">) /10</tspan><tspan dy="-4" font-size="7">3</tspan></text>
<text x="53.2" y="19.9" font-size="11" fill="#231f20" textLength="136.7" lengthAdjust="spacingAndGlyphs" stroke="#231f20" stroke-width="0.25">d<tspan dy="-4" font-size="7">6</tspan><tspan dy="4"> Tanabe-Sugano diagram</tspan></text>
<text x="78.6" y="32.4" font-size="10.8" fill="#e27b36" textLength="84.6" lengthAdjust="spacingAndGlyphs" stroke="#e27b36" stroke-width="0.25">[Co(pyrro-bpy)<tspan dy="3" font-size="7">3</tspan><tspan dy="-3">]</tspan><tspan dy="-4" font-size="7">3+</tspan></text>
<text x="317.0" y="11.0" font-size="11" font-weight="bold" fill="#111" stroke="none"><tspan font-size="7" dy="-4" font-weight="normal" stroke="#111" stroke-width="0.3">1</tspan><tspan dy="4" stroke="#111" stroke-width="0.35">T</tspan><tspan font-size="7.5" dy="3" stroke="#111" stroke-width="0.15">2</tspan></text>
<text x="316.6" y="41.8" font-size="11" font-weight="bold" fill="#3aac48" stroke="none"><tspan font-size="7" dy="-4" font-weight="normal" stroke="#3aac48" stroke-width="0.3">5</tspan><tspan dy="4" stroke="#3aac48" stroke-width="0.35">T</tspan><tspan font-size="7.5" dy="3" stroke="#3aac48" stroke-width="0.15">2</tspan></text>
<text x="316.8" y="87.8" font-size="11" font-weight="bold" fill="#c42a7c" stroke="none"><tspan font-size="7" dy="-4" font-weight="normal" stroke="#c42a7c" stroke-width="0.3">1</tspan><tspan dy="4" stroke="#c42a7c" stroke-width="0.35">T</tspan><tspan font-size="7.5" dy="3" stroke="#c42a7c" stroke-width="0.15">1</tspan></text>
<text x="316.5" y="130.3" font-size="11" font-weight="bold" fill="#111" stroke="none"><tspan font-size="7" dy="-4" font-weight="normal" stroke="#111" stroke-width="0.3">3</tspan><tspan dy="4" stroke="#111" stroke-width="0.35">T</tspan><tspan font-size="7.5" dy="3" stroke="#111" stroke-width="0.15">2</tspan></text>
<text x="316.5" y="170.0" font-size="11" font-weight="bold" fill="#4a44a8" stroke="none"><tspan font-size="7" dy="-4" font-weight="normal" stroke="#4a44a8" stroke-width="0.3">3</tspan><tspan dy="4" stroke="#4a44a8" stroke-width="0.35">T</tspan><tspan font-size="7.5" dy="3" stroke="#4a44a8" stroke-width="0.15">1</tspan></text>
<text x="316.0" y="413.5" font-size="11" font-weight="bold" fill="#111" stroke="none"><tspan font-size="7" dy="-4" font-weight="normal" stroke="#111" stroke-width="0.3">1</tspan><tspan dy="4" stroke="#111" stroke-width="0.35">A</tspan><tspan font-size="7.5" dy="3" stroke="#111" stroke-width="0.15">1</tspan></text>
<text x="203.6" y="322.3" font-size="10.5" font-weight="bold" fill="#4cb050" stroke="none"><tspan font-size="7" dy="-4" font-weight="normal" stroke="#4cb050" stroke-width="0.3">5</tspan><tspan dy="4" stroke="#4cb050" stroke-width="0.35">T</tspan><tspan font-size="7.5" dy="3" stroke="#4cb050" stroke-width="0.15">2</tspan></text>
<text x="268.6" y="363.0" font-size="10.5" font-weight="bold" fill="#1c1c6c" stroke="none"><tspan font-size="7" dy="-4" font-weight="normal" stroke="#1c1c6c" stroke-width="0.3">3</tspan><tspan dy="4" stroke="#1c1c6c" stroke-width="0.35">T</tspan><tspan font-size="7.5" dy="3" stroke="#1c1c6c" stroke-width="0.15">1</tspan></text>
<text x="350.40" y="9.90" font-size="14" fill="#231f20" stroke="#231f20" stroke-width="0.3" text-anchor="start" font-weight="normal" >b</text>
<rect x="464.2" y="87.6" width="10.6" height="73.6" fill="#e6e6e6"/>
<rect x="608.3" y="87.6" width="11.7" height="73.6" fill="#fcf1c2"/>
<line x1="412.00" y1="155.70" x2="644.80" y2="155.70" stroke="#5a5a5a" stroke-width="1.3" stroke-dasharray="3.8 5.4"/>
<line x1="412.00" y1="4.30" x2="644.80" y2="4.30" stroke="#231f20" stroke-width="1.45" />
<line x1="412.00" y1="4.30" x2="412.00" y2="161.20" stroke="#231f20" stroke-width="1.45" />
<line x1="644.80" y1="4.30" x2="644.80" y2="161.20" stroke="#231f20" stroke-width="1.45" />
<line x1="405.50" y1="78.60" x2="650.00" y2="78.60" stroke="#231f20" stroke-width="1.45" />
<line x1="412.00" y1="87.60" x2="644.80" y2="87.60" stroke="#231f20" stroke-width="1.45" />
<line x1="412.00" y1="161.20" x2="644.80" y2="161.20" stroke="#231f20" stroke-width="1.45" />
<line x1="405.50" y1="56.65" x2="412.00" y2="56.65" stroke="#231f20" stroke-width="1.45" />
<line x1="405.50" y1="34.70" x2="412.00" y2="34.70" stroke="#231f20" stroke-width="1.45" />
<line x1="405.50" y1="12.75" x2="412.00" y2="12.75" stroke="#231f20" stroke-width="1.45" />
<text x="400.00" y="82.90" font-size="10" fill="#231f20" stroke="#231f20" stroke-width="0.3" text-anchor="end" font-weight="normal" textLength="5.0" lengthAdjust="spacingAndGlyphs">0</text>
<text x="400.00" y="60.95" font-size="10" fill="#231f20" stroke="#231f20" stroke-width="0.3" text-anchor="end" font-weight="normal" textLength="5.0" lengthAdjust="spacingAndGlyphs">5</text>
<text x="400.00" y="39.00" font-size="10" fill="#231f20" stroke="#231f20" stroke-width="0.3" text-anchor="end" font-weight="normal" textLength="9.4" lengthAdjust="spacingAndGlyphs">10</text>
<text x="400.00" y="17.05" font-size="10" fill="#231f20" stroke="#231f20" stroke-width="0.3" text-anchor="end" font-weight="normal" textLength="9.4" lengthAdjust="spacingAndGlyphs">15</text>
<line x1="644.80" y1="59.00" x2="650.00" y2="59.00" stroke="#231f20" stroke-width="1.45" />
<line x1="644.80" y1="39.40" x2="650.00" y2="39.40" stroke="#231f20" stroke-width="1.45" />
<line x1="644.80" y1="19.80" x2="650.00" y2="19.80" stroke="#231f20" stroke-width="1.45" />
<text x="650.20" y="82.40" font-size="10" fill="#231f20" stroke="#231f20" stroke-width="0.3" text-anchor="start" font-weight="normal" textLength="5.0" lengthAdjust="spacingAndGlyphs">0</text>
<text x="650.20" y="62.80" font-size="10" fill="#231f20" stroke="#231f20" stroke-width="0.3" text-anchor="start" font-weight="normal" textLength="18.0" lengthAdjust="spacingAndGlyphs">0.02</text>
<text x="650.20" y="43.20" font-size="10" fill="#231f20" stroke="#231f20" stroke-width="0.3" text-anchor="start" font-weight="normal" textLength="18.0" lengthAdjust="spacingAndGlyphs">0.04</text>
<text x="650.20" y="23.60" font-size="10" fill="#231f20" stroke="#231f20" stroke-width="0.3" text-anchor="start" font-weight="normal" textLength="18.0" lengthAdjust="spacingAndGlyphs">0.06</text>
<line x1="405.50" y1="88.50" x2="412.00" y2="88.50" stroke="#231f20" stroke-width="1.45" />
<text x="401.60" y="93.40" font-size="10" fill="#231f20" stroke="#231f20" stroke-width="0.3" text-anchor="end" font-weight="normal" textLength="9.4" lengthAdjust="spacingAndGlyphs">10</text>
<line x1="405.50" y1="115.38" x2="412.00" y2="115.38" stroke="#231f20" stroke-width="1.45" />
<text x="401.60" y="120.28" font-size="10" fill="#231f20" stroke="#231f20" stroke-width="0.3" text-anchor="end" font-weight="normal" textLength="5.0" lengthAdjust="spacingAndGlyphs">6</text>
<line x1="405.50" y1="142.26" x2="412.00" y2="142.26" stroke="#231f20" stroke-width="1.45" />
<text x="401.60" y="147.16" font-size="10" fill="#231f20" stroke="#231f20" stroke-width="0.3" text-anchor="end" font-weight="normal" textLength="5.0" lengthAdjust="spacingAndGlyphs">2</text>
<line x1="412.00" y1="161.20" x2="412.00" y2="167.40" stroke="#231f20" stroke-width="1.45" />
<text x="412.00" y="179.00" font-size="10" fill="#231f20" stroke="#231f20" stroke-width="0.3" text-anchor="middle" font-weight="normal" textLength="14.6" lengthAdjust="spacingAndGlyphs">400</text>
<line x1="448.38" y1="87.60" x2="448.38" y2="93.40" stroke="#231f20" stroke-width="1.45" />
<line x1="448.38" y1="161.20" x2="448.38" y2="167.40" stroke="#231f20" stroke-width="1.45" />
<text x="448.38" y="179.00" font-size="10" fill="#231f20" stroke="#231f20" stroke-width="0.3" text-anchor="middle" font-weight="normal" textLength="14.6" lengthAdjust="spacingAndGlyphs">450</text>
<line x1="484.77" y1="87.60" x2="484.77" y2="93.40" stroke="#231f20" stroke-width="1.45" />
<line x1="484.77" y1="161.20" x2="484.77" y2="167.40" stroke="#231f20" stroke-width="1.45" />
<text x="484.77" y="179.00" font-size="10" fill="#231f20" stroke="#231f20" stroke-width="0.3" text-anchor="middle" font-weight="normal" textLength="14.6" lengthAdjust="spacingAndGlyphs">500</text>
<line x1="521.15" y1="87.60" x2="521.15" y2="93.40" stroke="#231f20" stroke-width="1.45" />
<line x1="521.15" y1="161.20" x2="521.15" y2="167.40" stroke="#231f20" stroke-width="1.45" />
<text x="521.15" y="179.00" font-size="10" fill="#231f20" stroke="#231f20" stroke-width="0.3" text-anchor="middle" font-weight="normal" textLength="14.6" lengthAdjust="spacingAndGlyphs">550</text>
<line x1="557.54" y1="87.60" x2="557.54" y2="93.40" stroke="#231f20" stroke-width="1.45" />
<line x1="557.54" y1="161.20" x2="557.54" y2="167.40" stroke="#231f20" stroke-width="1.45" />
<text x="557.54" y="179.00" font-size="10" fill="#231f20" stroke="#231f20" stroke-width="0.3" text-anchor="middle" font-weight="normal" textLength="14.6" lengthAdjust="spacingAndGlyphs">600</text>
<line x1="593.92" y1="87.60" x2="593.92" y2="93.40" stroke="#231f20" stroke-width="1.45" />
<line x1="593.92" y1="161.20" x2="593.92" y2="167.40" stroke="#231f20" stroke-width="1.45" />
<text x="593.92" y="179.00" font-size="10" fill="#231f20" stroke="#231f20" stroke-width="0.3" text-anchor="middle" font-weight="normal" textLength="14.6" lengthAdjust="spacingAndGlyphs">650</text>
<line x1="630.31" y1="87.60" x2="630.31" y2="93.40" stroke="#231f20" stroke-width="1.45" />
<line x1="630.31" y1="161.20" x2="630.31" y2="167.40" stroke="#231f20" stroke-width="1.45" />
<text x="630.31" y="179.00" font-size="10" fill="#231f20" stroke="#231f20" stroke-width="0.3" text-anchor="middle" font-weight="normal" textLength="14.6" lengthAdjust="spacingAndGlyphs">700</text>
<text x="486.7" y="197" font-size="11" fill="#747474" textLength="86.4" lengthAdjust="spacingAndGlyphs" stroke="#747474" stroke-width="0.25">Wavelength (nm)</text>
<text transform="translate(383.6,148.3) rotate(-90)" font-size="11" fill="#747474" textLength="52.5" lengthAdjust="spacingAndGlyphs" stroke="#747474" stroke-width="0.25">ΔA (mOD)</text>
<text transform="translate(381.9,76.5) rotate(-90)" font-size="10.5" fill="#747474" textLength="72" lengthAdjust="spacingAndGlyphs" stroke="#747474" stroke-width="0.25">ε (M<tspan dy="-4" font-size="7">-1</tspan><tspan dy="4">cm</tspan><tspan dy="-4" font-size="7">-1</tspan><tspan dy="4">) /10</tspan><tspan dy="-4" font-size="7">3</tspan></text>
<text transform="translate(676.5,15) rotate(90)" font-size="11" fill="#747474" textLength="65" lengthAdjust="spacingAndGlyphs" stroke="#747474" stroke-width="0.25">Osc. strength</text>
<text x="479.2" y="17.2" font-size="10.5" fill="#e57a33" textLength="140.6" lengthAdjust="spacingAndGlyphs" stroke="#e57a33" stroke-width="0.25">[Co(pyrro-bpy)<tspan dy="3" font-size="7">3</tspan><tspan dy="-3">]</tspan><tspan dy="-4" font-size="7">3+</tspan><tspan dy="4"> TD DFT(</tspan><tspan dy="-4" font-size="7">3</tspan><tspan dy="4">MC)</tspan></text>
<line x1="627.20" y1="13.10" x2="640.40" y2="13.10" stroke="#d8743a" stroke-width="2.0" stroke-dasharray="3.1 1.95"/>
<line x1="421.00" y1="101.80" x2="432.30" y2="101.80" stroke="#e57a33" stroke-width="1.6" />
<text x="436.3" y="105.3" font-size="10.5" fill="#e57a33" textLength="152.4" lengthAdjust="spacingAndGlyphs" stroke="#e57a33" stroke-width="0.25">[Co(pyrro-bpy)<tspan dy="3" font-size="7">3</tspan><tspan dy="-3">]</tspan><tspan dy="-4" font-size="7">3+</tspan><tspan dy="4"> MeCN TA(expt.)</tspan></text>
<line x1="420.60" y1="78.60" x2="420.60" y2="73.20" stroke="#a6a9b8" stroke-width="1.2" />
<line x1="560.50" y1="78.60" x2="560.50" y2="71.00" stroke="#a6a9b8" stroke-width="1.2" />
<line x1="586.90" y1="78.60" x2="586.90" y2="75.00" stroke="#a6a9b8" stroke-width="1.2" />
<line x1="593.30" y1="78.60" x2="593.30" y2="52.10" stroke="#a6a9b8" stroke-width="1.2" />
<path d="M412.50,75.80 C413.42,75.67 416.25,75.17 418.00,75.00 C419.75,74.83 421.00,74.70 423.00,74.80 C425.00,74.90 427.17,75.27 430.00,75.60 C432.83,75.93 435.00,76.52 440.00,76.80 C445.00,77.08 451.67,77.18 460.00,77.30 C468.33,77.42 480.83,77.52 490.00,77.50 C499.17,77.48 508.67,77.45 515.00,77.20 C521.33,76.95 523.83,76.53 528.00,76.00 C532.17,75.47 536.33,74.78 540.00,74.00 C543.67,73.22 546.67,72.25 550.00,71.30 C553.33,70.35 556.67,69.30 560.00,68.30 C563.33,67.30 566.67,66.28 570.00,65.30 C573.33,64.32 576.67,63.35 580.00,62.40 C583.33,61.45 586.67,60.43 590.00,59.60 C593.33,58.77 596.67,58.08 600.00,57.40 C603.33,56.72 607.00,56.15 610.00,55.50 C613.00,54.85 615.50,54.32 618.00,53.50 C620.50,52.68 622.67,51.88 625.00,50.60 C627.33,49.32 629.83,47.48 632.00,45.80 C634.17,44.12 635.92,42.50 638.00,40.50 C640.08,38.50 643.42,34.92 644.50,33.80" fill="none" stroke="#e8843c" stroke-width="1.45" stroke-dasharray="3 2.6"/>
<path d="M412.30,154.60 C415.25,154.58 423.72,154.50 430.00,154.50 C436.28,154.50 444.83,154.55 450.00,154.60 C455.17,154.65 458.50,154.52 461.00,154.80 C463.50,155.08 463.67,155.48 465.00,156.30 C466.33,157.12 467.67,159.53 469.00,159.70 C470.33,159.87 471.67,158.08 473.00,157.30 C474.33,156.52 475.00,155.48 477.00,155.00 C479.00,154.52 482.75,154.58 485.00,154.40 C487.25,154.22 487.83,154.15 490.50,153.90 C493.17,153.65 497.50,153.42 501.00,152.90 C504.50,152.38 508.00,151.80 511.50,150.80 C515.00,149.80 518.50,148.37 522.00,146.90 C525.50,145.43 529.00,143.68 532.50,142.00 C536.00,140.32 539.48,138.60 543.00,136.80 C546.52,135.00 550.10,133.18 553.60,131.20 C557.10,129.22 560.50,126.88 564.00,124.90 C567.50,122.92 571.38,120.97 574.60,119.30 C577.82,117.63 580.68,115.97 583.30,114.90 C585.92,113.83 588.18,113.23 590.30,112.90 C592.42,112.57 594.38,112.75 596.00,112.90 C597.62,113.05 598.83,113.25 600.00,113.80 C601.17,114.35 601.83,115.12 603.00,116.20 C604.17,117.28 605.67,118.80 607.00,120.30 C608.33,121.80 610.00,124.08 611.00,125.20 C612.00,126.32 612.30,126.93 613.00,127.00 C613.70,127.07 614.28,127.10 615.20,125.60 C616.12,124.10 617.40,120.73 618.50,118.00 C619.60,115.27 620.72,111.62 621.80,109.20 C622.88,106.78 623.90,104.70 625.00,103.50 C626.10,102.30 627.48,102.60 628.40,102.00 C629.32,101.40 629.78,100.43 630.50,99.90 C631.22,99.37 631.95,98.72 632.70,98.80 C633.45,98.88 634.35,99.83 635.00,100.40 C635.65,100.97 636.07,102.20 636.60,102.20 C637.13,102.20 637.47,101.45 638.20,100.40 C638.93,99.35 640.27,96.73 641.00,95.90 C641.73,95.07 642.10,94.97 642.60,95.40 C643.10,95.83 643.63,97.23 644.00,98.50 C644.37,99.77 644.67,102.25 644.80,103.00" fill="none" stroke="#e57a33" stroke-width="1.6"/>
<text x="350.60" y="236.70" font-size="12.5" fill="#111" stroke="#111" stroke-width="0.3" text-anchor="start" font-weight="bold" >c</text>
<line x1="413.10" y1="260.70" x2="643.90" y2="260.70" stroke="#231f20" stroke-width="1.45" />
<line x1="413.10" y1="260.70" x2="413.10" y2="417.20" stroke="#231f20" stroke-width="1.45" />
<line x1="643.90" y1="260.70" x2="643.90" y2="417.20" stroke="#231f20" stroke-width="1.45" />
<line x1="413.10" y1="417.20" x2="643.90" y2="417.20" stroke="#231f20" stroke-width="1.45" />
<line x1="408.60" y1="392.56" x2="413.10" y2="392.56" stroke="#231f20" stroke-width="1.45" />
<text x="405.90" y="396.46" font-size="10" fill="#231f20" stroke="#231f20" stroke-width="0.3" text-anchor="end" font-weight="normal" textLength="5.0" lengthAdjust="spacingAndGlyphs">5</text>
<line x1="408.60" y1="353.83" x2="413.10" y2="353.83" stroke="#231f20" stroke-width="1.45" />
<text x="405.90" y="357.73" font-size="10" fill="#231f20" stroke="#231f20" stroke-width="0.3" text-anchor="end" font-weight="normal" textLength="9.4" lengthAdjust="spacingAndGlyphs">10</text>
<line x1="408.60" y1="315.10" x2="413.10" y2="315.10" stroke="#231f20" stroke-width="1.45" />
<text x="405.90" y="319.00" font-size="10" fill="#231f20" stroke="#231f20" stroke-width="0.3" text-anchor="end" font-weight="normal" textLength="9.4" lengthAdjust="spacingAndGlyphs">15</text>
<line x1="408.60" y1="276.36" x2="413.10" y2="276.36" stroke="#231f20" stroke-width="1.45" />
<text x="405.90" y="280.26" font-size="10" fill="#231f20" stroke="#231f20" stroke-width="0.3" text-anchor="end" font-weight="normal" textLength="9.4" lengthAdjust="spacingAndGlyphs">20</text>
<line x1="437.50" y1="417.20" x2="437.50" y2="421.60" stroke="#231f20" stroke-width="1.45" />
<text x="437.50" y="435.10" font-size="10" fill="#231f20" stroke="#231f20" stroke-width="0.3" text-anchor="middle" font-weight="normal" textLength="5.0" lengthAdjust="spacingAndGlyphs">0</text>
<line x1="498.38" y1="417.20" x2="498.38" y2="421.60" stroke="#231f20" stroke-width="1.45" />
<text x="498.38" y="435.10" font-size="10" fill="#231f20" stroke="#231f20" stroke-width="0.3" text-anchor="middle" font-weight="normal" textLength="9.4" lengthAdjust="spacingAndGlyphs">10</text>
<line x1="559.26" y1="417.20" x2="559.26" y2="421.60" stroke="#231f20" stroke-width="1.45" />
<text x="559.26" y="435.10" font-size="10" fill="#231f20" stroke="#231f20" stroke-width="0.3" text-anchor="middle" font-weight="normal" textLength="9.4" lengthAdjust="spacingAndGlyphs">20</text>
<line x1="620.14" y1="417.20" x2="620.14" y2="421.60" stroke="#231f20" stroke-width="1.45" />
<text x="620.14" y="435.10" font-size="10" fill="#231f20" stroke="#231f20" stroke-width="0.3" text-anchor="middle" font-weight="normal" textLength="9.4" lengthAdjust="spacingAndGlyphs">30</text>
<text x="489.2" y="451.4" font-size="11" fill="#747474" textLength="78.8" lengthAdjust="spacingAndGlyphs" stroke="#747474" stroke-width="0.25">% HF exchange</text>
<text transform="translate(383.2,373.7) rotate(-90)" font-size="10" fill="#747474" textLength="84" lengthAdjust="spacingAndGlyphs" stroke="#747474" stroke-width="0.25">Energy (cm<tspan dy="-3.5" font-size="6.5">-1</tspan><tspan dy="3.6">) /10</tspan><tspan dy="-3.5" font-size="6.5">3</tspan></text>
<line x1="437.10" y1="275.20" x2="623.00" y2="275.20" stroke="#eaa2bc" stroke-width="1.9" stroke-dasharray="3.8 3.75"/>
<line x1="437.10" y1="327.80" x2="621.00" y2="327.80" stroke="#35358f" stroke-width="1.9" stroke-dasharray="3.8 3.75"/>
<circle cx="437.6" cy="298.3" r="3.2" fill="#e8609a"/>
<circle cx="498.1" cy="278.1" r="3.2" fill="#e8609a"/>
<circle cx="558.9" cy="272.9" r="3.2" fill="#e8609a"/>
<circle cx="620.2" cy="274.9" r="3.2" fill="#e8609a"/>
<polygon points="437.40,316.60 438.57,318.83 440.80,320.00 438.57,321.17 437.40,323.40 436.23,321.17 434.00,320.00 436.23,318.83" fill="#5252a8"/>
<polygon points="498.10,319.10 499.27,321.33 501.50,322.50 499.27,323.67 498.10,325.90 496.93,323.67 494.70,322.50 496.93,321.33" fill="#5252a8"/>
<polygon points="558.90,326.50 560.07,328.73 562.30,329.90 560.07,331.07 558.90,333.30 557.73,331.07 555.50,329.90 557.73,328.73" fill="#5252a8"/>
<polygon points="620.20,335.20 621.37,337.43 623.60,338.60 621.37,339.77 620.20,342.00 619.03,339.77 616.80,338.60 619.03,337.43" fill="#5252a8"/>
<polygon points="434.40,414.65 440.40,414.65 437.40,409.35" fill="#111"/>
<polygon points="495.20,411.35 501.20,411.35 498.20,406.05" fill="#111"/>
<polygon points="556.30,409.95 562.30,409.95 559.30,404.65" fill="#111"/>
<polygon points="617.20,408.45 623.20,408.45 620.20,403.15" fill="#111"/>
<circle cx="420.4" cy="233.0" r="2.6" fill="#e8609a"/>
<line x1="413.50" y1="244.60" x2="426.80" y2="244.60" stroke="#eaa2bc" stroke-width="1.6" stroke-dasharray="2.6 2.4"/>
<polygon points="515.40,230.00 516.32,232.08 518.40,233.00 516.32,233.92 515.40,236.00 514.48,233.92 512.40,233.00 514.48,232.08" fill="#5252a8"/>
<line x1="508.40" y1="244.80" x2="522.00" y2="244.80" stroke="#35358f" stroke-width="1.6" stroke-dasharray="2.6 2.4"/>
<polygon points="611.60,242.60 617.40,242.60 614.50,238.00" fill="#111"/>
<text x="429.6" y="235.7" font-size="9" fill="#c4307f" stroke="#c4307f" stroke-width="0.25">E</text>
<text x="436.20000000000005" y="231.1" font-size="5.2" fill="#c4307f" textLength="13.0" lengthAdjust="spacingAndGlyphs" stroke="#c4307f" stroke-width="0.25">TDDFT</text>
<text x="434.6" y="239.0" font-size="5.2" fill="#c4307f" stroke="#c4307f" stroke-width="0.25">vert.</text>
<text x="429.6" y="248.8" font-size="9" fill="#c4307f" stroke="#c4307f" stroke-width="0.25">E</text>
<text x="436.20000000000005" y="244.20000000000002" font-size="5.2" fill="#c4307f" textLength="9.5" lengthAdjust="spacingAndGlyphs" stroke="#c4307f" stroke-width="0.25">Expt.</text>
<text x="434.6" y="252.10000000000002" font-size="5.2" fill="#c4307f" stroke="#c4307f" stroke-width="0.25">vert.</text>
<text x="526.3" y="235.7" font-size="9" fill="#4a4a9e" stroke="#4a4a9e" stroke-width="0.25">E</text>
<text x="532.9" y="231.1" font-size="5.2" fill="#4a4a9e" textLength="8.0" lengthAdjust="spacingAndGlyphs" stroke="#4a4a9e" stroke-width="0.25">DFT</text>
<text x="531.3" y="239.0" font-size="5.2" fill="#4a4a9e" stroke="#4a4a9e" stroke-width="0.25">vert.</text>
<text x="526.3" y="248.8" font-size="9" fill="#4a4a9e" stroke="#4a4a9e" stroke-width="0.25">E</text>
<text x="532.9" y="244.20000000000002" font-size="5.2" fill="#4a4a9e" textLength="9.5" lengthAdjust="spacingAndGlyphs" stroke="#4a4a9e" stroke-width="0.25">Expt.</text>
<text x="531.3" y="252.10000000000002" font-size="5.2" fill="#4a4a9e" stroke="#4a4a9e" stroke-width="0.25">vert.</text>
<text x="452.9" y="236.1" font-size="9" fill="#c4307f" textLength="39.4" lengthAdjust="spacingAndGlyphs" stroke="#c4307f" stroke-width="0.25">(<tspan dy="-3.6" font-size="5">1</tspan><tspan dy="3.6">A</tspan><tspan dy="2" font-size="5">1</tspan><tspan dy="-2"> </tspan><tspan font-size="12" dy="0.6">→</tspan><tspan dy="-0.6"> </tspan><tspan dy="-3.6" font-size="5">1</tspan><tspan dy="3.6">ES</tspan>)</text>
<text x="454.7" y="249.1" font-size="9" fill="#c4307f" textLength="36.2" lengthAdjust="spacingAndGlyphs" stroke="#c4307f" stroke-width="0.25">(<tspan dy="-3.6" font-size="5">1</tspan><tspan dy="3.6">A</tspan><tspan dy="2" font-size="5">1</tspan><tspan dy="-2"> </tspan><tspan font-size="12" dy="0.6">→</tspan><tspan dy="-0.6"> </tspan><tspan dy="-3.6" font-size="5">1</tspan><tspan dy="3.6">T</tspan><tspan dy="2" font-size="5">1</tspan><tspan dy="-2">)</tspan></text>
<text x="550.8" y="236.1" font-size="9" fill="#4a4a9e" textLength="41.2" lengthAdjust="spacingAndGlyphs" stroke="#4a4a9e" stroke-width="0.25">(<tspan dy="-3.6" font-size="5">1</tspan><tspan dy="3.6">A</tspan><tspan dy="2" font-size="5">1</tspan><tspan dy="-2"> </tspan><tspan font-size="12" dy="0.6">→</tspan><tspan dy="-0.6"> </tspan><tspan dy="-3.6" font-size="5">3</tspan><tspan dy="3.6">MC</tspan>)</text>
<text x="551.7" y="249.1" font-size="9" fill="#4a4a9e" textLength="35.9" lengthAdjust="spacingAndGlyphs" stroke="#4a4a9e" stroke-width="0.25">(<tspan dy="-3.6" font-size="5">1</tspan><tspan dy="3.6">A</tspan><tspan dy="2" font-size="5">1</tspan><tspan dy="-2"> </tspan><tspan font-size="12" dy="0.6">→</tspan><tspan dy="-0.6"> </tspan><tspan dy="-3.6" font-size="5">3</tspan><tspan dy="3.6">T</tspan><tspan dy="2" font-size="5">1</tspan><tspan dy="-2">)</tspan></text>
<text x="624.0" y="243.6" font-size="9" fill="#222" stroke="#222" stroke-width="0.25">λ</text>
<text x="628.3" y="238.0" font-size="4.8" fill="#333" stroke="#333" stroke-width="0.25">DFT</text>
<text x="629.6" y="246.4" font-size="5.2" fill="#222" stroke="#222" stroke-width="0.25">in</text>
</svg>
</body></html>
